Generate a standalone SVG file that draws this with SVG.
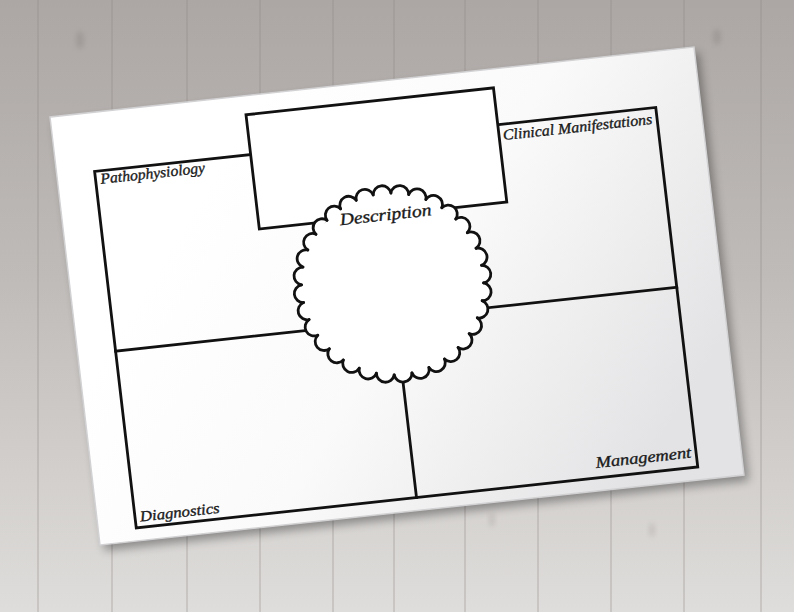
<svg xmlns="http://www.w3.org/2000/svg" width="794" height="612" viewBox="0 0 794 612">
  <defs>
    <linearGradient id="wood" x1="0" y1="0" x2="0" y2="1">
      <stop offset="0" stop-color="#aca7a4"/>
      <stop offset="0.45" stop-color="#bfbbb8"/>
      <stop offset="1" stop-color="#dfdddb"/>
    </linearGradient>
    <linearGradient id="paperGrad" gradientUnits="userSpaceOnUse" x1="150" y1="80" x2="560" y2="400">
      <stop offset="0" stop-color="#ffffff"/>
      <stop offset="0.45" stop-color="#fafafa"/>
      <stop offset="1" stop-color="#e3e3e5"/>
    </linearGradient>
    <filter id="blur" x="-10%" y="-10%" width="120%" height="120%">
      <feGaussianBlur stdDeviation="5"/>
    </filter>
    <filter id="soft" x="-50%" y="-50%" width="200%" height="200%">
      <feGaussianBlur stdDeviation="2.5"/>
    </filter>
    <path id="bumpF" d="M90.56,-8.92 A8.95,8.95 0 0 1 90.56,8.92 Z" fill="#ffffff" stroke="none"/>
    <path id="bumpS" d="M90.56,-8.92 A8.95,8.95 0 0 1 90.56,8.92" fill="none" stroke="#111" stroke-width="2.8" stroke-linecap="round"/>
    <style>
      .ln { fill: none; stroke: #111; stroke-width: 2.8; stroke-linecap: square; stroke-linejoin: miter; }
      .plank { stroke: #8e8986; stroke-width: 1.2; opacity: 0.45; }
      .lbl { font-family: "Liberation Serif", "DejaVu Serif", serif; font-style: italic; fill: #1a1a1a; stroke: #1a1a1a; stroke-width: 0.35; }
    </style>
  </defs>

  <!-- wooden background -->
  <rect x="0" y="0" width="794" height="612" fill="url(#wood)"/>
  <g id="planks">
    <line class="plank" x1="38" y1="0" x2="38" y2="612"/>
    <line class="plank" x1="112" y1="0" x2="112" y2="612"/>
    <line class="plank" x1="187" y1="0" x2="187" y2="612"/>
    <line class="plank" x1="260" y1="0" x2="260" y2="612"/>
    <line class="plank" x1="333" y1="0" x2="333" y2="612"/>
    <line class="plank" x1="394" y1="0" x2="394" y2="612"/>
    <line class="plank" x1="465" y1="0" x2="465" y2="612"/>
    <line class="plank" x1="538" y1="0" x2="538" y2="612"/>
    <line class="plank" x1="611" y1="0" x2="611" y2="612"/>
    <line class="plank" x1="684" y1="0" x2="684" y2="612"/>
    <line class="plank" x1="761" y1="0" x2="761" y2="612"/>
    <ellipse cx="80" cy="40" rx="4" ry="9" fill="#7d7875" opacity="0.3" filter="url(#soft)"/>
    <ellipse cx="717" cy="37" rx="4" ry="8" fill="#7d7875" opacity="0.3" filter="url(#soft)"/>
    <ellipse cx="492" cy="520" rx="3" ry="7" fill="#9a9592" opacity="0.3" filter="url(#soft)"/>
    <ellipse cx="652" cy="530" rx="3" ry="7" fill="#9a9592" opacity="0.3" filter="url(#soft)"/>
  </g>

  <g id="paper" transform="matrix(0.9938,-0.108,0.116,0.993,50,117)">
    <rect x="4" y="6" width="648" height="431" fill="#000" opacity="0.35" filter="url(#blur)"/>
    <rect x="0" y="0" width="648" height="431" fill="url(#paperGrad)" stroke="#d2d2d4" stroke-width="1.5"/>

    <g id="connectors">
      <path class="ln" d="M195,59 L38,59 L38,418 L603,418 L603,56 L444,56"/>
      <path class="ln" d="M38,240 L232,240"/>
      <path class="ln" d="M410,237 L603,237"/>
      <path class="ln" d="M320,298 L320,418"/>
    </g>

    <g id="node-top-box">
      <rect class="ln" x="195" y="19" width="249" height="115" style="fill:#ffffff"/>
    </g>

    <g id="node-description" transform="translate(321,203)">
      <circle cx="0" cy="0" r="91" fill="#ffffff"/>
      <g id="bumpFills">
        <use href="#bumpF" transform="rotate(0)"/><use href="#bumpF" transform="rotate(11.25)"/><use href="#bumpF" transform="rotate(22.5)"/><use href="#bumpF" transform="rotate(33.75)"/><use href="#bumpF" transform="rotate(45)"/><use href="#bumpF" transform="rotate(56.25)"/><use href="#bumpF" transform="rotate(67.5)"/><use href="#bumpF" transform="rotate(78.75)"/>
        <use href="#bumpF" transform="rotate(90)"/><use href="#bumpF" transform="rotate(101.25)"/><use href="#bumpF" transform="rotate(112.5)"/><use href="#bumpF" transform="rotate(123.75)"/><use href="#bumpF" transform="rotate(135)"/><use href="#bumpF" transform="rotate(146.25)"/><use href="#bumpF" transform="rotate(157.5)"/><use href="#bumpF" transform="rotate(168.75)"/>
        <use href="#bumpF" transform="rotate(180)"/><use href="#bumpF" transform="rotate(191.25)"/><use href="#bumpF" transform="rotate(202.5)"/><use href="#bumpF" transform="rotate(213.75)"/><use href="#bumpF" transform="rotate(225)"/><use href="#bumpF" transform="rotate(236.25)"/><use href="#bumpF" transform="rotate(247.5)"/><use href="#bumpF" transform="rotate(258.75)"/>
        <use href="#bumpF" transform="rotate(270)"/><use href="#bumpF" transform="rotate(281.25)"/><use href="#bumpF" transform="rotate(292.5)"/><use href="#bumpF" transform="rotate(303.75)"/><use href="#bumpF" transform="rotate(315)"/><use href="#bumpF" transform="rotate(326.25)"/><use href="#bumpF" transform="rotate(337.5)"/><use href="#bumpF" transform="rotate(348.75)"/>
      </g>
      <g id="bumpStrokes">
        <use href="#bumpS" transform="rotate(0)"/><use href="#bumpS" transform="rotate(11.25)"/><use href="#bumpS" transform="rotate(22.5)"/><use href="#bumpS" transform="rotate(33.75)"/><use href="#bumpS" transform="rotate(45)"/><use href="#bumpS" transform="rotate(56.25)"/><use href="#bumpS" transform="rotate(67.5)"/><use href="#bumpS" transform="rotate(78.75)"/>
        <use href="#bumpS" transform="rotate(90)"/><use href="#bumpS" transform="rotate(101.25)"/><use href="#bumpS" transform="rotate(112.5)"/><use href="#bumpS" transform="rotate(123.75)"/><use href="#bumpS" transform="rotate(135)"/><use href="#bumpS" transform="rotate(146.25)"/><use href="#bumpS" transform="rotate(157.5)"/><use href="#bumpS" transform="rotate(168.75)"/>
        <use href="#bumpS" transform="rotate(180)"/><use href="#bumpS" transform="rotate(191.25)"/><use href="#bumpS" transform="rotate(202.5)"/><use href="#bumpS" transform="rotate(213.75)"/><use href="#bumpS" transform="rotate(225)"/><use href="#bumpS" transform="rotate(236.25)"/><use href="#bumpS" transform="rotate(247.5)"/><use href="#bumpS" transform="rotate(258.75)"/>
        <use href="#bumpS" transform="rotate(270)"/><use href="#bumpS" transform="rotate(281.25)"/><use href="#bumpS" transform="rotate(292.5)"/><use href="#bumpS" transform="rotate(303.75)"/><use href="#bumpS" transform="rotate(315)"/><use href="#bumpS" transform="rotate(326.25)"/><use href="#bumpS" transform="rotate(337.5)"/><use href="#bumpS" transform="rotate(348.75)"/>
      </g>
      <text class="lbl" x="-45" y="-64" font-size="17" textLength="92" lengthAdjust="spacingAndGlyphs">Description</text>
    </g>

    <g id="node-pathophysiology">
      <text class="lbl" x="43" y="72" font-size="15" textLength="105" lengthAdjust="spacingAndGlyphs">Pathophysiology</text>
    </g>
    <g id="node-clinical">
      <text class="lbl" x="448" y="72" font-size="15" textLength="150" lengthAdjust="spacingAndGlyphs">Clinical Manifestations</text>
    </g>
    <g id="node-diagnostics">
      <text class="lbl" x="43" y="412" font-size="15" textLength="80" lengthAdjust="spacingAndGlyphs">Diagnostics</text>
    </g>
    <g id="node-management">
      <text class="lbl" x="502" y="408" font-size="16" textLength="96" lengthAdjust="spacingAndGlyphs">Management</text>
    </g>
  </g>
</svg>
